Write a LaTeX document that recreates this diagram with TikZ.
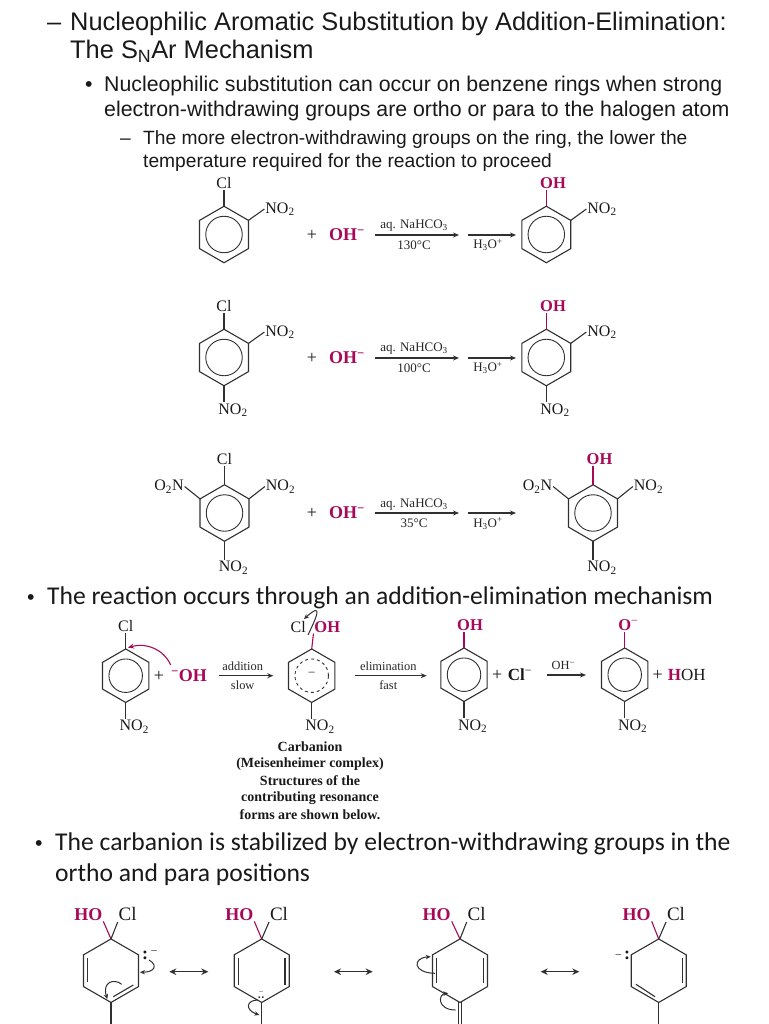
\documentclass[tikz,border=0pt]{standalone}
\usepackage{fontspec}
\usepackage{tikz, xcolor}
\usetikzlibrary{shapes,arrows,arrows.meta}
\setmainfont{Liberation Serif}
\newfontfamily\arialfont{Liberation Sans}
\newfontfamily\califont{Carlito}
\definecolor{chemred}{HTML}{A80858}
\definecolor{bondgray}{HTML}{303030}
\newcommand{\notwo}{NO\textsubscript{2}}
\newcommand{\otwon}{O\textsubscript{2}N}
\newcommand{\fsz}[1]{\fontsize{#1}{#1}\selectfont}

\begin{document}
\begin{tikzpicture}[x=1pt, y=-1pt]
\tikzstyle{ringr}=[regular polygon, regular polygon sides=6, shape border rotate=30, draw=bondgray, line width=1.1pt, inner sep=0pt, outer sep=0pt]
\tikzstyle{ringa}=[ringr, minimum size=56.5pt]
\tikzstyle{ringm}=[ringr, minimum size=53.5pt]
\tikzstyle{ringb}=[ringr, minimum size=63.5pt]
\tikzstyle{ringc}=[circle, draw=bondgray, line width=0.9pt, inner sep=0pt, outer sep=0pt]
\tikzstyle{chem}=[inner sep=0pt, outer sep=1pt, text=black!90, font=\fsz{16}]
\tikzstyle{chemp}=[chem, font=\fsz{18}]
\tikzstyle{chemb}=[chem, text=chemred, font=\fsz{16.5}\bfseries]
\tikzstyle{chemo}=[chem, text=chemred, font=\fsz{18}\bfseries]
\tikzstyle{chemh}=[chem, text=chemred, font=\fsz{18}\bfseries]
\tikzstyle{chemc}=[chem, font=\fsz{19}]
\tikzstyle{cond}=[inner sep=0pt, text=black!85, font=\fsz{13}]
\tikzstyle{condm}=[inner sep=0pt, text=black!85, font=\fsz{12.4}]
\tikzstyle{heada}=[anchor=base west, inner sep=0pt, text=black!90, font=\arialfont\fsz{25.4}]
\tikzstyle{headb}=[anchor=base west, inner sep=0pt, text=black!90, font=\arialfont\fsz{21.3}]
\tikzstyle{headc}=[anchor=base west, inner sep=0pt, text=black!90, font=\arialfont\fsz{19.2}]
\tikzstyle{headd}=[anchor=base west, inner sep=0pt, text=black!90, font=\califont\fsz{25.6}]
\tikzstyle{note}=[inner sep=0pt, text=black!90, font=\fsz{14}\bfseries]
\tikzstyle{bond}=[bondgray, line width=1.1pt]
\tikzstyle{bondr}=[chemred, line width=1.1pt]
\tikzstyle{drawstyle}=[bondgray, line width=1.1pt, -{Stealth[length=6pt, width=5pt]}]
\tikzstyle{bothstyle}=[bondgray, line width=1.3pt, {Stealth[length=7pt, width=6.5pt]}-{Stealth[length=7pt, width=6.5pt]}]
\tikzstyle{curvestyle}=[bondgray, line width=1pt, -{Stealth[length=5pt, width=4.5pt]}]

\useasboundingbox (0,0) rectangle (768,1024);

% slide text
\node[heada] (T0) at (47,31) {–};
\node[heada] (T1) at (70,31) {Nucleophilic Aromatic Substitution by Addition-Elimination:};
\node[heada] (T2) at (70,59) {The S\textsubscript{N}Ar Mechanism};
\node[headb] (T3) at (85,92) {•};
\node[headb] (T4) at (104,92) {Nucleophilic substitution can occur on benzene rings when strong};
\node[headb] (T5) at (104,117) {electron-withdrawing groups are ortho or para to the halogen atom};
\node[headc] (T6) at (120,145) {–};
\node[headc] (T7) at (143,145) {The more electron-withdrawing groups on the ring, the lower the};
\node[headc] (T8) at (143,168) {temperature required for the reaction to proceed};
\node[headb] (T9) at (27,604) {•};
\node[headd] (T10) at (47,604) {The reaction occurs through an addition-elimination mechanism};
\node[headb] (T11) at (35,850) {•};
\node[headd] (T12) at (55,850) {The carbanion is stabilized by electron-withdrawing groups in the};
\node[headd] (T13) at (55,881) {ortho and para positions};

% row 0
\node[ringa] (G0x0) at (224,234.5) {};
\node[ringc, minimum size=36.5pt] at (G0x0.center) {};
\node[chem] (Cl0x0) at (224,183) {Cl};
\node[chem] (N0x0) at (280,209) {\notwo};
\draw[bond] (G0x0.90) -- (Cl0x0.south);
\draw[bond] (G0x0.30) -- (N0x0.west);
\node[chemp] (P0) at (312,235) {+};
\node[chemo] (O0) at (347,235) {OH\textsuperscript{−}};
\coordinate (A0x0) at (375,235);
\coordinate (A0x1) at (459,235);
\coordinate (A0x2) at (468,235);
\coordinate (A0x3) at (516,235);
\draw[drawstyle] (A0x0) -- (A0x1);
\draw[drawstyle] (A0x2) -- (A0x3);
\node[cond] (C0x0) at (414,226) {aq. NaHCO\textsubscript{3}};
\node[cond] (C0x1) at (414,245) {130°C};
\node[cond] (C0x2) at (488,245) {H\textsubscript{3}O\textsuperscript{+}};
\node[ringa] (G0x1) at (546.3,234.5) {};
\node[ringc, minimum size=36.5pt] at (G0x1.center) {};
\node[chemb] (H0x1) at (553,183) {OH};
\node[chem] (N0x1) at (602,209) {\notwo};
\draw[bondr] (G0x1.90) -- (G0x1.90 |- H0x1.south);
\draw[bond] (G0x1.30) -- (N0x1.west);

% row 1
\node[ringa] (G1x0) at (224,357.5) {};
\node[ringc, minimum size=36.5pt] at (G1x0.center) {};
\node[chem] (Cl1x0) at (224,306) {Cl};
\node[chem] (N1x0) at (280,332) {\notwo};
\node[chem] (M1x0) at (233,410) {\notwo};
\draw[bond] (G1x0.90) -- (Cl1x0.south);
\draw[bond] (G1x0.30) -- (N1x0.west);
\draw[bond] (G1x0.270) -- (G1x0.270 |- M1x0.north);
\node[chemp] (P1) at (312,358) {+};
\node[chemo] (O1) at (347,358) {OH\textsuperscript{−}};
\coordinate (A1x0) at (375,358);
\coordinate (A1x1) at (459,358);
\coordinate (A1x2) at (468,358);
\coordinate (A1x3) at (516,358);
\draw[drawstyle] (A1x0) -- (A1x1);
\draw[drawstyle] (A1x2) -- (A1x3);
\node[cond] (C1x0) at (414,349) {aq. NaHCO\textsubscript{3}};
\node[cond] (C1x1) at (414,368) {100°C};
\node[cond] (C1x2) at (488,368) {H\textsubscript{3}O\textsuperscript{+}};
\node[ringa] (G1x1) at (546.3,357.5) {};
\node[ringc, minimum size=36.5pt] at (G1x1.center) {};
\node[chemb] (H1x1) at (553,306) {OH};
\node[chem] (N1x1) at (602,332) {\notwo};
\node[chem] (M1x1) at (555,410) {\notwo};
\draw[bondr] (G1x1.90) -- (G1x1.90 |- H1x1.south);
\draw[bond] (G1x1.30) -- (N1x1.west);
\draw[bond] (G1x1.270) -- (G1x1.270 |- M1x1.north);

% row 2
\node[ringa] (G2x0) at (224.5,513) {};
\node[ringc, minimum size=36.5pt] at (G2x0.center) {};
\node[chem] (Cl2x0) at (224.5,459.5) {Cl};
\node[chem] (N2x0) at (280.5,486.5) {\notwo};
\node[chem] (L2x0) at (169,486.5) {\otwon};
\node[chem] (M2x0) at (233.5,567.5) {\notwo};
\draw[bond] (G2x0.90) -- (Cl2x0.south);
\draw[bond] (G2x0.30) -- (N2x0.west);
\draw[bond] (G2x0.150) -- (L2x0.east);
\draw[bond] (G2x0.270) -- (G2x0.270 |- M2x0.north);
\node[chemp] (P2) at (312,513) {+};
\node[chemo] (O2) at (347,513) {OH\textsuperscript{−}};
\coordinate (A2x0) at (375,513);
\coordinate (A2x1) at (459,513);
\coordinate (A2x2) at (468,513);
\coordinate (A2x3) at (516,513);
\draw[drawstyle] (A2x0) -- (A2x1);
\draw[drawstyle] (A2x2) -- (A2x3);
\node[cond] (C2x0) at (414,504.5) {aq. NaHCO\textsubscript{3}};
\node[cond] (C2x1) at (414,523.5) {35°C};
\node[cond] (C2x2) at (488,523.5) {H\textsubscript{3}O\textsuperscript{+}};
\node[ringa] (G2x1) at (593,513) {};
\node[ringc, minimum size=36.5pt] at (G2x1.center) {};
\node[chemb] (H2x1) at (599.5,459.5) {OH};
\node[chem] (N2x1) at (648.5,486.5) {\notwo};
\node[chem] (L2x1) at (537.5,486.5) {\otwon};
\node[chem] (M2x1) at (602,567.5) {\notwo};
\draw[bondr] (G2x1.90) -- (G2x1.90 |- H2x1.south);
\draw[bond] (G2x1.30) -- (N2x1.west);
\draw[bond] (G2x1.150) -- (L2x1.east);
\draw[bond] (G2x1.270) -- (G2x1.270 |- M2x1.north);

% mechanism
\node[ringm] (G3x0) at (125.7,675.7) {};
\node[ringc, minimum size=33.5pt] at (G3x0.center) {};
\node[chem] (Cl3x0) at (125.7,626) {Cl};
\node[chem] (N3x0) at (134.3,726.7) {\notwo};
\draw[bond] (G3x0.90) -- (Cl3x0.south);
\draw[bond] (G3x0.270) -- (G3x0.270 |- N3x0.north);
\node[chemp] (P3x0) at (159,676) {+};
\node[chemo] (O3) at (189,676) {\textsuperscript{−}OH};
\coordinate (B3x0) at (170.7,665);
\coordinate (B3x1) at (128,647.7);
\draw[chemred, line width=1.1pt, -{Stealth[length=6pt, width=5pt]}] (B3x0) .. controls (164,650) and (147,642) .. (B3x1);
\coordinate (A3x0) at (219,675.7);
\coordinate (A3x1) at (273.3,675.7);
\draw[drawstyle] (A3x0) -- (A3x1);
\node[condm] (C3x0) at (242.7,666.7) {addition};
\node[condm] (C3x1) at (242.7,685) {slow};
\node[ringm] (G3x1) at (311.7,675.7) {};
\node[ringc, dashed, minimum size=33.5pt] at (G3x1.center) {};
\node[condm] (Q3x1) at (311.7,674) {–};
\node[chem] (Cl3x1) at (298.3,627) {Cl};
\node[chemb] (H3x1) at (327.3,627) {OH};
\node[chem] (N3x1) at (320,726.7) {\notwo};
\draw[bondr] (G3x1.90) -- (H3x1.south west);
\draw[bond] (G3x1.270) -- (G3x1.270 |- N3x1.north);
\coordinate (B3x2) at (308,635);
\coordinate (B3x3) at (304,619);
\draw[curvestyle] (B3x2) .. controls (315,620) and (325,600) .. (B3x3);
\node[note] (E0) at (310,746.7) {Carbanion};
\node[note] (E1) at (310,764.3) {(Meisenheimer complex)};
\node[note] (E2) at (310,781) {Structures of the};
\node[note] (E3) at (310,797.7) {contributing resonance};
\node[note] (E4) at (310,815) {forms are shown below.};
\coordinate (A3x2) at (355,675.7);
\coordinate (A3x3) at (426.7,675.7);
\draw[drawstyle] (A3x2) -- (A3x3);
\node[condm] (C3x2) at (388.3,666.7) {elimination};
\node[condm] (C3x3) at (388.3,685) {fast};
\node[ringm] (G3x2) at (464,674.7) {};
\node[ringc, minimum size=33.5pt] at (G3x2.center) {};
\node[chemb] (H3x2) at (470,625) {OH};
\node[chem] (N3x2) at (472.7,726) {\notwo};
\draw[bondr] (G3x2.90) -- (G3x2.90 |- H3x2.south);
\draw[bond] (G3x2.270) -- (G3x2.270 |- N3x2.north);
\node[chemp] (P3x2) at (497.3,675) {+};
\node[chem, font=\fsz{17}\bfseries] (K3x2) at (520,675) {Cl\textsuperscript{\mdseries−}};
\coordinate (A3x4) at (546.7,675);
\coordinate (A3x5) at (586,675);
\draw[drawstyle] (A3x4) -- (A3x5);
\node[condm] (C3x4) at (563.3,665.7) {OH\textsuperscript{−}};
\node[ringm] (G3x3) at (624.7,674.7) {};
\node[ringc, minimum size=33.5pt] at (G3x3.center) {};
\node[chemb] (H3x3) at (628.3,625) {O\textsuperscript{\mdseries−}};
\node[chem] (N3x3) at (632.7,726) {\notwo};
\draw[bondr] (G3x3.90) -- (G3x3.90 |- H3x3.south);
\draw[bond] (G3x3.270) -- (G3x3.270 |- N3x3.north);
\node[chemp] (P3x3) at (657.7,675) {+};
\node[chem, font=\fsz{17}] (W3x3) at (686.7,675) {\textcolor{chemred}{\bfseries H}OH};

% resonance forms
\node[ringb] (G4x0) at (111,970.7) {};
\node[chemh] (H4x0) at (88.3,914.3) {HO};
\node[chemc] (Cl4x0) at (127.7,914.3) {Cl};
\coordinate (D4x0) at (111,1024);
\draw[bondr] (G4x0.90) -- (H4x0.south east);
\draw[bond] (G4x0.90) -- (Cl4x0.south west);
\draw[bond] (G4x0.270) -- (D4x0);
\coordinate (I4x0) at (87.7,958);
\coordinate (I4x1) at (87.7,982);
\coordinate (I4x2) at (113.3,996.7);
\coordinate (I4x3) at (133.3,985);
\draw[bond] (I4x0) -- (I4x1);
\draw[bond] (I4x2) -- (I4x3);
\node[chem, font=\fsz{18}\bfseries] (S4x0) at (145,955.5) {:};
\node[chem, font=\fsz{11}] (S4x1) at (154,952) {–};
\coordinate (B4x0) at (149,960);
\coordinate (B4x1) at (140,972.3);
\draw[curvestyle] (B4x0) .. controls (158,965) and (155,972) .. (B4x1);
\coordinate (B4x2) at (121.7,984.3);
\coordinate (B4x3) at (107.3,999);
\draw[curvestyle] (B4x2) .. controls (114,978) and (102,982) .. (B4x3);
\coordinate (A4x0) at (169.3,971.7);
\coordinate (A4x1) at (208.3,971.7);
\draw[bothstyle] (A4x0) -- (A4x1);

\node[ringb] (G4x1) at (261.7,970.7) {};
\node[chemh] (H4x1) at (239.3,914.3) {HO};
\node[chemc] (Cl4x1) at (279,914.3) {Cl};
\coordinate (D4x1) at (261.7,1024);
\draw[bondr] (G4x1.90) -- (H4x1.south east);
\draw[bond] (G4x1.90) -- (Cl4x1.south west);
\draw[bond] (G4x1.270) -- (D4x1);
\coordinate (I4x4) at (238.3,958);
\coordinate (I4x5) at (238.3,985);
\coordinate (I4x6) at (285,958);
\coordinate (I4x7) at (285,985);
\draw[bond] (I4x4) -- (I4x5);
\draw[bond] (I4x6) -- (I4x7);
\node[chem, font=\fsz{11}\bfseries, rotate=90] (S4x2) at (261,998) {:};
\node[chem, font=\fsz{7}] (S4x3) at (261,992.5) {–};
\coordinate (B4x4) at (258,1000);
\coordinate (B4x5) at (259.3,1015);
\draw[curvestyle] (B4x4) .. controls (246,1000) and (245,1010) .. (B4x5);
\coordinate (A4x2) at (334,971.7);
\coordinate (A4x3) at (372.7,971.7);
\draw[bothstyle] (A4x2) -- (A4x3);

\node[ringb] (G4x2) at (460,970.7) {};
\node[chemh] (H4x2) at (436.7,914.3) {HO};
\node[chemc] (Cl4x2) at (476.7,914.3) {Cl};
\coordinate (D4x2) at (458.4,1002);
\coordinate (D4x3) at (458.4,1024);
\coordinate (D4x4) at (461.6,1002);
\coordinate (D4x5) at (461.6,1024);
\draw[bondr] (G4x2.90) -- (H4x2.south east);
\draw[bond] (G4x2.90) -- (Cl4x2.south west);
\draw[bond] (D4x2) -- (D4x3);
\draw[bond] (D4x4) -- (D4x5);
\coordinate (I4x8) at (436.7,958);
\coordinate (I4x9) at (436.7,983);
\coordinate (I4x10) at (483.5,958);
\coordinate (I4x11) at (483.5,983);
\draw[bond] (I4x8) -- (I4x9);
\draw[bond] (I4x10) -- (I4x11);
\coordinate (B4x6) at (435,973.3);
\coordinate (B4x7) at (430.7,956.7);
\draw[curvestyle] (B4x6) .. controls (413,973) and (412,958) .. (B4x7);
\coordinate (B4x8) at (455.7,1010);
\coordinate (B4x9) at (448.3,993.3);
\draw[curvestyle] (B4x8) .. controls (437,1010) and (438,994) .. (B4x9);
\coordinate (A4x4) at (540.7,971.7);
\coordinate (A4x5) at (579.3,971.7);
\draw[bothstyle] (A4x4) -- (A4x5);

\node[ringb] (G4x3) at (658.7,970.7) {};
\node[chemh] (H4x3) at (636.7,914.3) {HO};
\node[chemc] (Cl4x3) at (676,914.3) {Cl};
\coordinate (D4x6) at (658.7,1024);
\draw[bondr] (G4x3.90) -- (H4x3.south east);
\draw[bond] (G4x3.90) -- (Cl4x3.south west);
\draw[bond] (G4x3.270) -- (D4x6);
\coordinate (I4x12) at (682.3,958);
\coordinate (I4x13) at (682.3,983);
\coordinate (I4x14) at (636,984.3);
\coordinate (I4x15) at (655,996.7);
\draw[bond] (I4x12) -- (I4x13);
\draw[bond] (I4x14) -- (I4x15);
\node[chem, font=\fsz{11}] (S4x4) at (618.3,955.7) {–};
\node[chem, font=\fsz{18}\bfseries] (S4x5) at (627,955.5) {:};
\end{tikzpicture}
\end{document}
